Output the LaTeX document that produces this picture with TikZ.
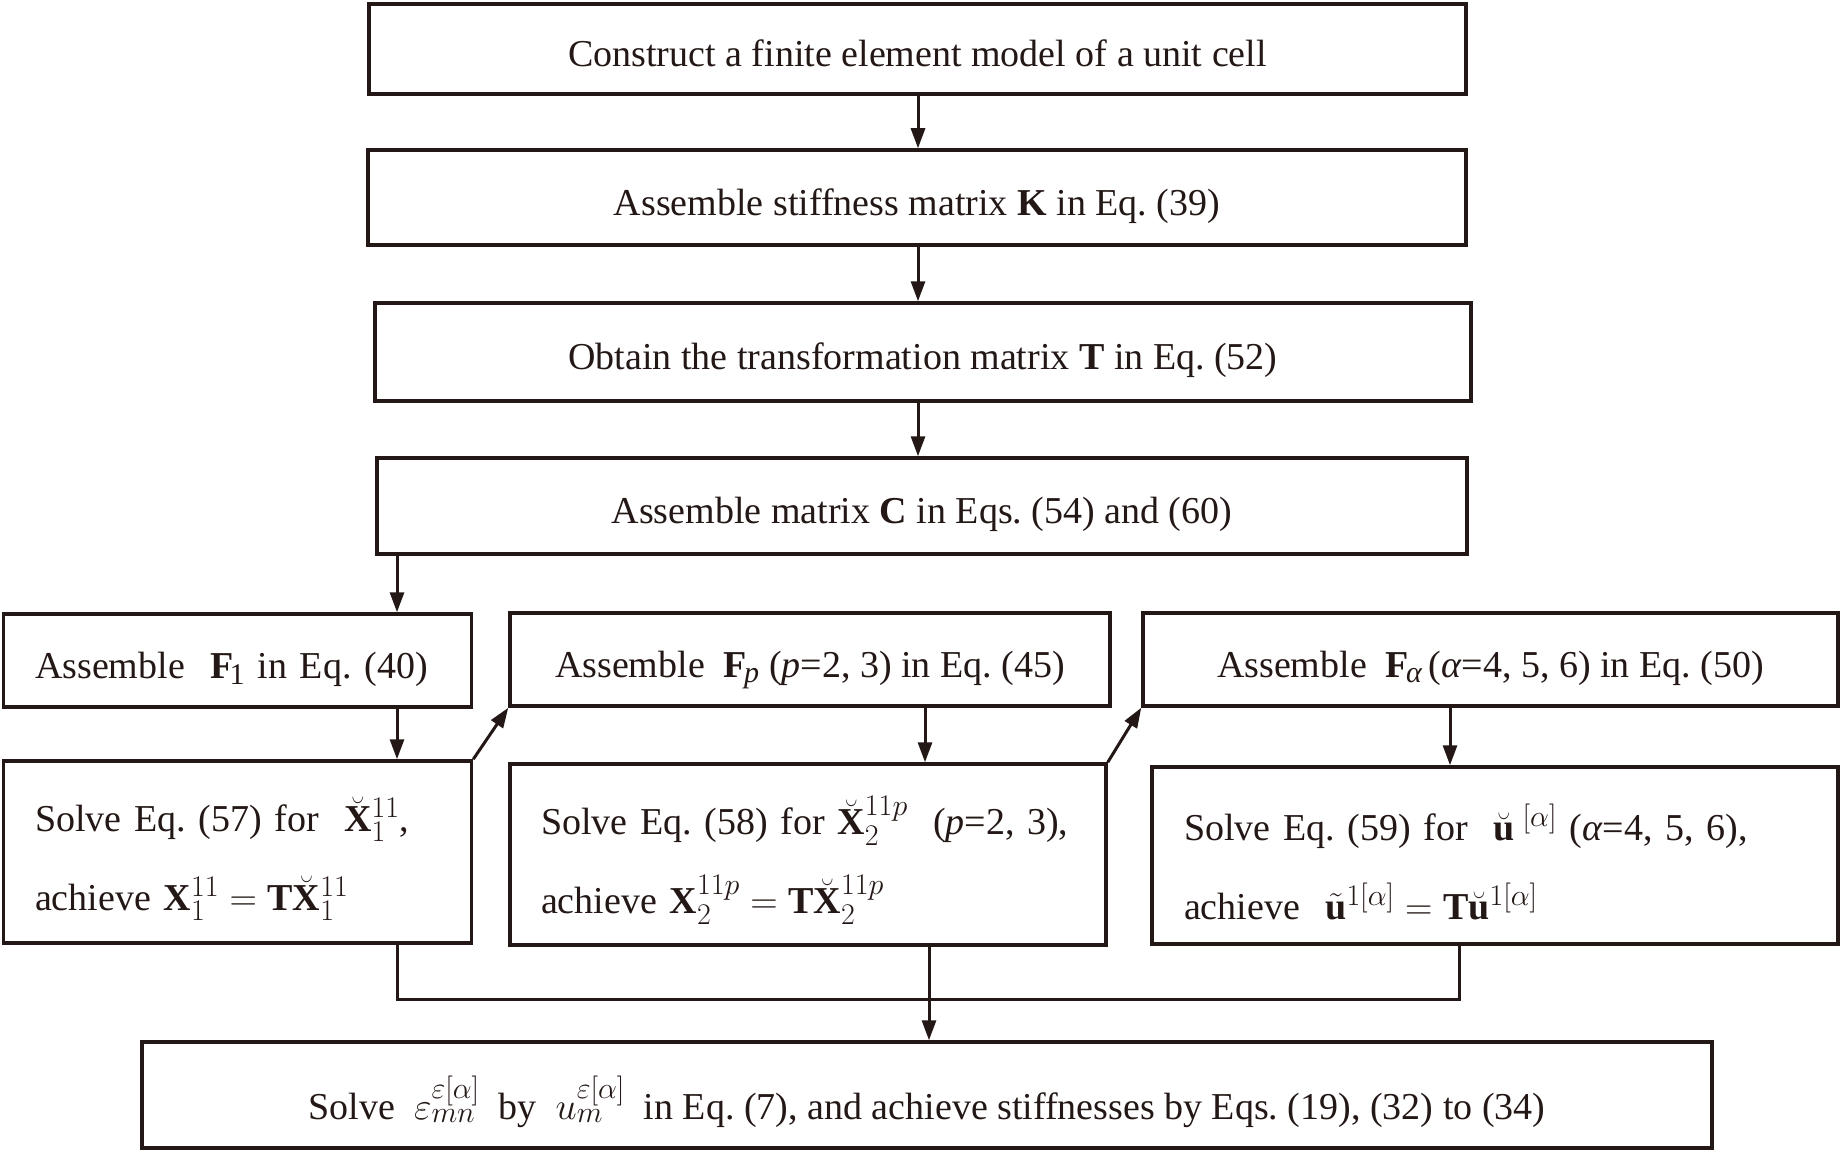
\RequirePackage{fix-cm}
\documentclass[tikz,border=0pt]{standalone}
\usepackage{amsmath}
\usepackage{fontspec}
\setmainfont{Liberation Serif}
\usetikzlibrary{arrows.meta}
\definecolor{ink}{HTML}{231815}
\DeclareMathSizes{38}{38}{30}{23}
\begin{document}
\frenchspacing
\begin{tikzpicture}[x=1pt,y=-1pt,
  font=\fontsize{38}{79}\selectfont, text=ink,
  box/.style={draw=ink, line width=3.5pt, inner sep=0pt, fill=white},
  oneline/.style={text height=36pt, text depth=1pt},
  arr/.style={draw=ink, line width=3pt, -{Triangle[length=20pt,width=14pt]}},
  plain/.style={draw=ink, line width=3pt}]
\useasboundingbox[fill=white] (0,0) rectangle (1843,1153);
% top column
\node[box, oneline, minimum width=1097pt, minimum height=90pt] (b1) at (917.5,49)
  {Construct a finite element model of a unit cell};
\node[box, oneline, minimum width=1098pt, minimum height=95pt] (b2) at (917,197.5)
  {Assemble stiffness matrix \textbf{K} in Eq. (39)};
\node[box, oneline, minimum width=1096pt, minimum height=98pt] (b3) at (923,352)
  {Obtain the transformation matrix \textbf{T} in Eq. (52)};
\node[box, oneline, minimum width=1090pt, minimum height=96pt] (b4) at (922,506)
  {Assemble matrix \textbf{C} in Eqs. (54) and (60)};
% assemble row
\node[box, oneline, minimum width=468pt, minimum height=93pt, text width=405pt, align=left] (fa1) at (237.5,660.5)
  {Assemble \ \textbf{F}\kern-0.1em$_{\textrm{1}}$ in Eq. (40)};
\node[box, oneline, minimum width=600pt, minimum height=93pt] (fa2) at (810,659.5)
  {Assemble \ \textbf{F}\kern-0.08em$_{\textit{p}}$ (\textit{p}=2, 3) in Eq. (45)};
\node[box, oneline, minimum width=695pt, minimum height=93pt] (fa3) at (1490.5,659.5)
  {Assemble \ \textbf{F}\kern-0.08em$_{\textit{α}}$\,(\textit{α}=4, 5, 6) in Eq. (50)};
% solve row
\node[box, minimum width=468pt, minimum height=182pt, text width=405pt, align=left] (s1) at (237.5,852)
  {\rule{0pt}{48pt}Solve Eq. (57) for \ $\breve{\mathbf{X}}_1^{11}$,\\
   achieve $\mathbf{X}_1^{11} = \mathbf{T}\breve{\mathbf{X}}_1^{11}$};
\node[box, minimum width=596pt, minimum height=181pt, text width=534pt, align=left] (s2) at (808,854.5)
  {\rule{0pt}{50pt}Solve Eq. (58) for $\breve{\mathbf{X}}_2^{11p}$ \ (\textit{p}=2, 3),\\
   achieve $\mathbf{X}_2^{11p} = \mathbf{T}\breve{\mathbf{X}}_2^{11p}$};
\node[box, minimum width=686pt, minimum height=177pt, text width=622pt, align=left] (s3) at (1495,855.5)
  {\rule{0pt}{50pt}Solve Eq. (59) for \ $\breve{\mathbf{u}}^{\;[\alpha]}$ (\textit{α}=4, 5, 6),\\
   achieve \ $\tilde{\mathbf{u}}^{1[\alpha]} = \mathbf{T}\breve{\mathbf{u}}^{1[\alpha]}$};
% bottom
\node[box, text height=50pt, text depth=2pt, minimum width=1570pt, minimum height=106pt] (bot) at (927,1095)
  {Solve \ $\varepsilon_{mn}^{\varepsilon[\alpha]}$ \ by \ $u_m^{\varepsilon[\alpha]}$ \ in Eq. (7), and achieve stiffnesses by Eqs. (19), (32) to (34)};
% helper coordinates
\coordinate (mx) at (918,0);
\coordinate (lx) at (397,0);
\coordinate (cx2) at (925,0);
\coordinate (rx) at (1450,0);
\coordinate (rx2) at (1459,0);
\coordinate (dx) at (929,0);
\coordinate (jy) at (0,999);
% connectors
\draw[arr] (b1.south -| mx) -- (b2.north -| mx);
\draw[arr] (b2.south -| mx) -- (b3.north -| mx);
\draw[arr] (b3.south -| mx) -- (b4.north -| mx);
\draw[arr] (b4.south -| lx) -- (fa1.north -| lx);
\draw[arr] (fa1.south -| lx) -- (s1.north -| lx);
\draw[arr] (s1.north east) -- (fa2.south west);
\draw[arr] (fa2.south -| cx2) -- (s2.north -| cx2);
\draw[arr] (s2.north east) -- (fa3.south west);
\draw[arr] (fa3.south -| rx) -- (s3.north -| rx);
\draw[plain] (s1.south -| lx) -- (lx |- jy) -- (rx2 |- jy) -- (s3.south -| rx2);
\draw[arr] (s2.south -| dx) -- (bot.north -| dx);
\end{tikzpicture}
\end{document}
